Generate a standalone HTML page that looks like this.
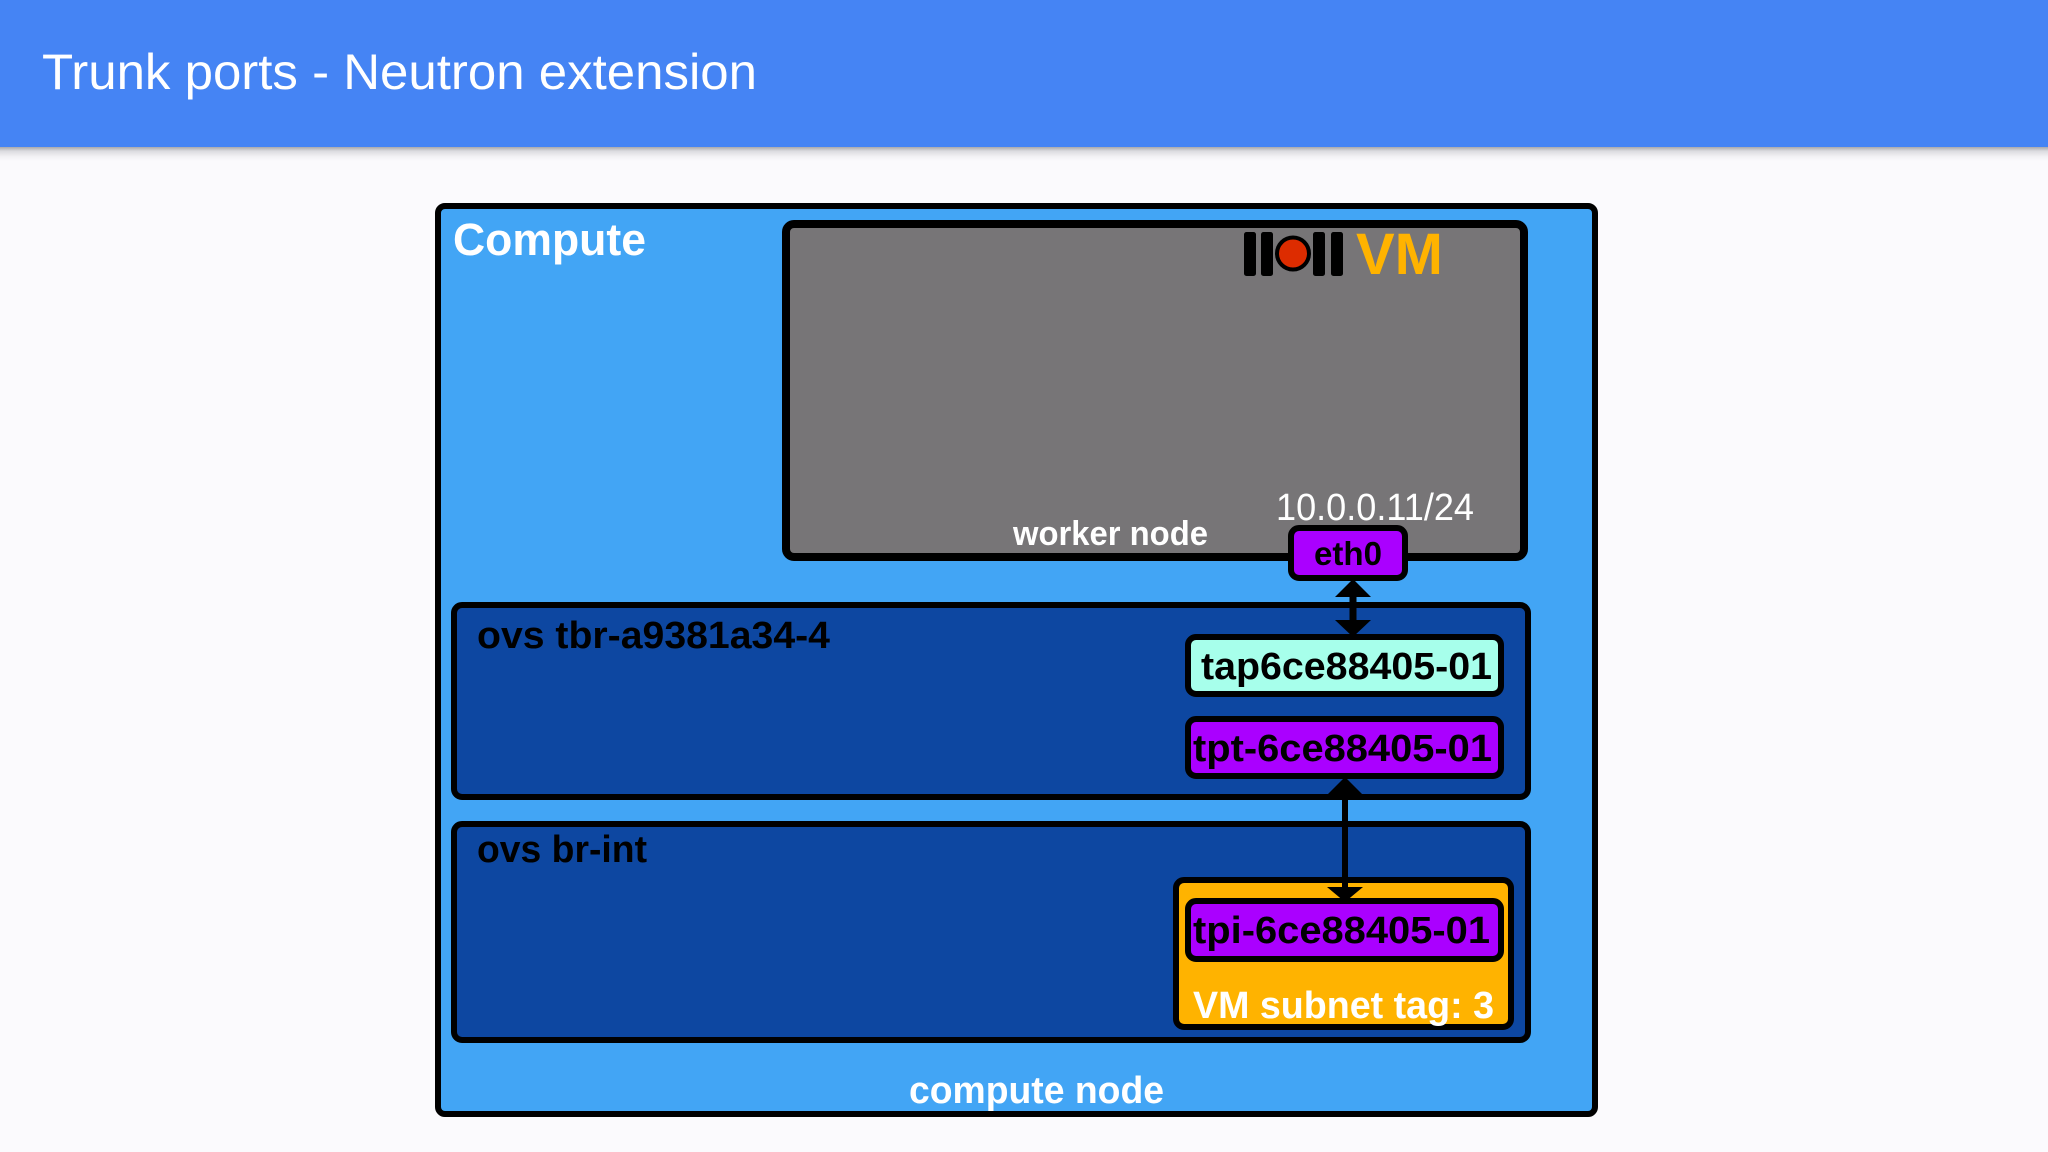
<!DOCTYPE html>
<html>
<head>
<meta charset="utf-8">
<title>Trunk ports - Neutron extension</title>
<style>
html,body{margin:0;padding:0;width:2048px;height:1152px;overflow:hidden;background:#fbfafd;}
.b{position:absolute;box-sizing:border-box;border-style:solid;border-color:#000;}
#head{position:absolute;left:0;top:0;width:2048px;height:147px;background:#4584f4;}
#shadow{position:absolute;left:0;top:147px;width:2048px;height:14px;background:linear-gradient(#a9a9ad 0,#dcdce0 30%,#f3f2f5 70%,#fbfafd 100%);}
svg{position:absolute;left:0;top:0;}
text{font-family:"Liberation Sans",sans-serif;}
.bd{font-weight:bold;}
</style>
</head>
<body>
<div id="head"></div>
<div id="shadow"></div>

<div class="b" style="left:435px;top:203px;width:1163px;height:914px;border-width:6.5px;border-radius:10px;background:#42a5f5;"></div>
<div class="b" style="left:782px;top:220px;width:746px;height:341px;border-width:8px;border-radius:12px;background:#777577;"></div>
<div class="b" style="left:451px;top:602px;width:1080px;height:198px;border-width:6px;border-radius:11px;background:#0d47a1;"></div>
<div class="b" style="left:451px;top:821px;width:1080px;height:222px;border-width:6px;border-radius:11px;background:#0d47a1;"></div>
<div class="b" style="left:1173px;top:877px;width:341px;height:153px;border-width:6px;border-radius:11px;background:#ffb300;"></div>
<div class="b" style="left:1185px;top:634px;width:319px;height:63px;border-width:6px;border-radius:11px;background:#a7ffeb;"></div>
<div class="b" style="left:1185px;top:716px;width:319px;height:63px;border-width:6px;border-radius:11px;background:#aa00ff;"></div>
<div class="b" style="left:1185px;top:898px;width:319px;height:64px;border-width:6px;border-radius:11px;background:#aa00ff;"></div>
<div class="b" style="left:1288px;top:525px;width:120px;height:56px;border-width:6px;border-radius:11px;background:#aa00ff;"></div>

<svg width="2048" height="1152" viewBox="0 0 2048 1152" xmlns="http://www.w3.org/2000/svg">
  <!-- connectors -->
  <rect x="1349.500" y="590" width="7" height="36" fill="#000"/>
  <polygon points="1353,579 1371,597 1335,597" fill="#000"/>
  <polygon points="1353,637 1371,620 1335,620" fill="#000"/>
  <rect x="1342" y="785" width="6" height="106" fill="#000"/>
  <polygon points="1345,777 1362,794 1328,794" fill="#000"/>
  <polygon points="1345,902 1363,887 1327,887" fill="#000"/>

  <!-- VM icon -->
  <rect x="1244" y="232" width="12" height="44" rx="2.5" fill="#000"/>
  <rect x="1261" y="232" width="12" height="44" rx="2.5" fill="#000"/>
  <rect x="1313" y="232" width="12" height="44" rx="2.5" fill="#000"/>
  <rect x="1331" y="232" width="12" height="44" rx="2.5" fill="#000"/>
  <circle cx="1293" cy="253.500" r="16" fill="#dd2c00" stroke="#000" stroke-width="4"/>

  <!-- labels -->
  <text x="42" y="89" font-size="50" fill="#fff" textLength="715" lengthAdjust="spacingAndGlyphs">Trunk ports - Neutron extension</text>
  <text class="bd" x="453" y="255" font-size="45" fill="#fff" textLength="193" lengthAdjust="spacingAndGlyphs">Compute</text>
  <text class="bd" x="1356" y="274" font-size="58" fill="#ffb300" textLength="87" lengthAdjust="spacingAndGlyphs">VM</text>
  <text x="1276" y="520" font-size="38" fill="#fff" textLength="198" lengthAdjust="spacingAndGlyphs">10.0.0.11/24</text>
  <text class="bd" x="1013" y="545" font-size="34" fill="#fff" textLength="195" lengthAdjust="spacingAndGlyphs">worker node</text>
  <text class="bd" x="1314" y="565" font-size="33" fill="#000" textLength="68" lengthAdjust="spacingAndGlyphs">eth0</text>
  <text class="bd" x="477" y="648" font-size="38" fill="#000" textLength="353" lengthAdjust="spacingAndGlyphs">ovs tbr-a9381a34-4</text>
  <text class="bd" x="1201" y="679" font-size="38" fill="#000" textLength="291" lengthAdjust="spacingAndGlyphs">tap6ce88405-01</text>
  <text class="bd" x="1193" y="761" font-size="38" fill="#000" textLength="299" lengthAdjust="spacingAndGlyphs">tpt-6ce88405-01</text>
  <text class="bd" x="477" y="862" font-size="38" fill="#000" textLength="170" lengthAdjust="spacingAndGlyphs">ovs br-int</text>
  <text class="bd" x="1193" y="943" font-size="38" fill="#000" textLength="297" lengthAdjust="spacingAndGlyphs">tpi-6ce88405-01</text>
  <text class="bd" x="1193" y="1018" font-size="38" fill="#fff" textLength="301" lengthAdjust="spacingAndGlyphs">VM subnet tag: 3</text>
  <text class="bd" x="909" y="1103" font-size="38" fill="#fff" textLength="255" lengthAdjust="spacingAndGlyphs">compute node</text>
</svg>
</body>
</html>
